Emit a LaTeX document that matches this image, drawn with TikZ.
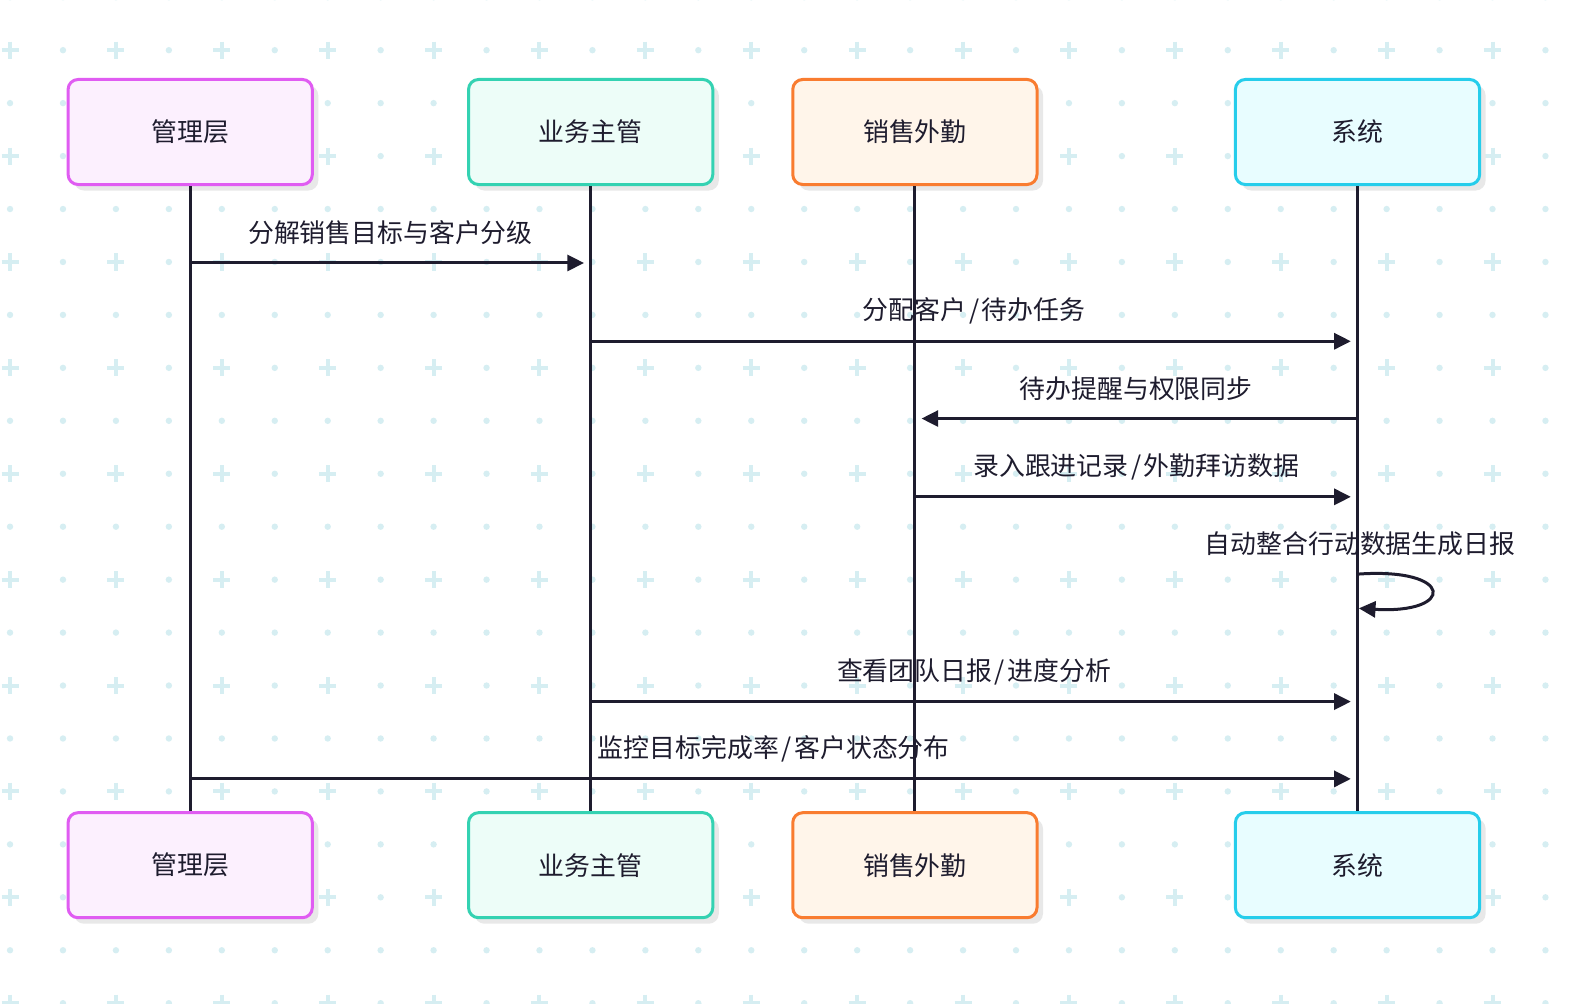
\documentclass[tikz,border=0pt]{standalone}
\usepackage{fontspec}
\setmainfont{Noto Sans CJK SC}
\usetikzlibrary{arrows.meta,calc,shadows}
\definecolor{ink}{RGB}{30,28,46}
\definecolor{grid1}{RGB}{214,238,242}
\definecolor{mgrD}{RGB}{224,92,242}
\definecolor{mgrF}{RGB}{252,240,254}
\definecolor{supD}{RGB}{52,210,178}
\definecolor{supF}{RGB}{237,253,248}
\definecolor{fldD}{RGB}{249,124,48}
\definecolor{fldF}{RGB}{255,245,234}
\definecolor{sysD}{RGB}{38,205,235}
\definecolor{sysF}{RGB}{232,253,255}
\newcommand{\slsep}{\hspace{2pt}/\hspace{2pt}}

\begin{document}
\begin{tikzpicture}[x=0.75bp,y=-0.75bp,>={Triangle[length=12.5pt,width=12pt]},
    actor/.style={draw=#1D,fill=#1F,line width=2.25pt,rounded corners=7.5pt,
      minimum width=182.5bp,minimum height=78.5bp,font=\fontsize{19.4pt}{23pt}\selectfont,text=ink,
      drop shadow={shadow xshift=4.5pt,shadow yshift=-4.5pt,fill=black!9,opacity=1}},
    life/.style={draw=ink,line width=2.25pt},
    msg/.style={draw=ink,line width=2.25pt,->,shorten >=5pt},
    lbl/.style={midway,yshift=22.5bp,font=\fontsize{19.4pt}{23pt}\selectfont,text=ink}]
    \useasboundingbox[fill=white] (0,0) rectangle (1568.2,1000.2);

    % background dots and crosses
    \foreach \k in {-1,...,18}{
      \foreach \j in {0,...,29}{
        \pgfmathsetmacro{\px}{10+52.75*\j}
        \pgfmathsetmacro{\py}{50+52.75*\k}
        \pgfmathtruncatemacro{\ev}{(mod(\k+2,2)==0)&&(mod(\j,2)==0)}
        \ifnum\ev=1
          \draw[grid1,line width=3pt] (\px-8.5,\py) -- (\px+8.5,\py) (\px,\py-8.5) -- (\px,\py+8.5);
        \else
          \fill[grid1] (\px,\py) circle (2.4pt);
        \fi
      }
    }

    \foreach \n/\c/\x/\t in {mgr/mgr/189.5/管理层,sup/sup/588.5/业务主管,fld/fld/911.5/销售外勤,sys/sys/1352.5/系统}{
      \node[actor=\c] (\n T) at (\x,131.5) {\t};
      \node[actor=\c] (\n B) at (\x,862) {\t};
      \draw[life] (\n T) -- (\n B);
    }

    \draw[msg] (mgrT |- 0,262) -- (supT |- 0,262) node[lbl] {分解销售目标与客户分级};
    \draw[msg] (supT |- 0,340) -- (sysT |- 0,340) node[lbl] {分配客户\slsep 待办任务};
    \draw[msg] (sysT |- 0,417) -- (fldT |- 0,417) node[lbl] {待办提醒与权限同步};
    \draw[msg] (fldT |- 0,495) -- (sysT |- 0,495) node[lbl] {录入跟进记录\slsep 外勤拜访数据};
    \node[font=\fontsize{19.4pt}{23pt}\selectfont,text=ink] (loop) at (1355,542) {自动整合行动数据生成日报};
    \draw[msg,shorten >=1pt] (sysT |- 0,572) .. controls (1450,565) and (1450,612) .. (sysT |- 0,606);
    \draw[msg] (supT |- 0,699) -- (sysT |- 0,699) node[lbl] {查看团队日报\slsep 进度分析};
    \draw[msg] (mgrT |- 0,776) -- (sysT |- 0,776) node[lbl] {监控目标完成率\slsep 客户状态分布};

  \end{tikzpicture}
\end{document}
